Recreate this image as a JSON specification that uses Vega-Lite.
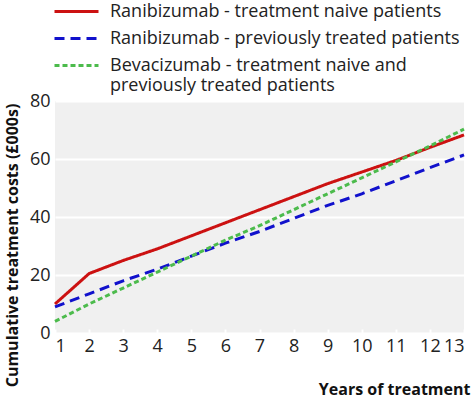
{
  "$schema": "https://vega.github.io/schema/vega-lite/v6.json",
  "autosize": "none",
  "width": 409,
  "height": 232,
  "padding": {"left": 55, "top": 101, "right": 10, "bottom": 66},
  "background": "white",
  "config": {
    "view": {"fill": "#f0f0f0", "stroke": null},
    "font": "Open Sans"
  },
  "data": {
    "values": [
      {"year": 1, "series": "Ranibizumab - treatment naive patients", "cost": 10},
      {"year": 2, "series": "Ranibizumab - treatment naive patients", "cost": 20.5},
      {"year": 3, "series": "Ranibizumab - treatment naive patients", "cost": 25},
      {"year": 4, "series": "Ranibizumab - treatment naive patients", "cost": 29},
      {"year": 5, "series": "Ranibizumab - treatment naive patients", "cost": 33.5},
      {"year": 6, "series": "Ranibizumab - treatment naive patients", "cost": 38},
      {"year": 7, "series": "Ranibizumab - treatment naive patients", "cost": 42.5},
      {"year": 8, "series": "Ranibizumab - treatment naive patients", "cost": 47},
      {"year": 9, "series": "Ranibizumab - treatment naive patients", "cost": 51.5},
      {"year": 10, "series": "Ranibizumab - treatment naive patients", "cost": 55.5},
      {"year": 11, "series": "Ranibizumab - treatment naive patients", "cost": 59.5},
      {"year": 12, "series": "Ranibizumab - treatment naive patients", "cost": 64},
      {"year": 13, "series": "Ranibizumab - treatment naive patients", "cost": 68.3},
      {"year": 1, "series": "Ranibizumab - previously treated patients", "cost": 9},
      {"year": 2, "series": "Ranibizumab - previously treated patients", "cost": 13.5},
      {"year": 3, "series": "Ranibizumab - previously treated patients", "cost": 18},
      {"year": 4, "series": "Ranibizumab - previously treated patients", "cost": 22},
      {"year": 5, "series": "Ranibizumab - previously treated patients", "cost": 26.5},
      {"year": 6, "series": "Ranibizumab - previously treated patients", "cost": 31},
      {"year": 7, "series": "Ranibizumab - previously treated patients", "cost": 35},
      {"year": 8, "series": "Ranibizumab - previously treated patients", "cost": 39.5},
      {"year": 9, "series": "Ranibizumab - previously treated patients", "cost": 44},
      {"year": 10, "series": "Ranibizumab - previously treated patients", "cost": 48},
      {"year": 11, "series": "Ranibizumab - previously treated patients", "cost": 52.5},
      {"year": 12, "series": "Ranibizumab - previously treated patients", "cost": 57},
      {"year": 13, "series": "Ranibizumab - previously treated patients", "cost": 61.4},
      {"year": 1, "series": "Bevacizumab - treatment naive and|previously treated patients", "cost": 4},
      {"year": 2, "series": "Bevacizumab - treatment naive and|previously treated patients", "cost": 10},
      {"year": 3, "series": "Bevacizumab - treatment naive and|previously treated patients", "cost": 15.5},
      {"year": 4, "series": "Bevacizumab - treatment naive and|previously treated patients", "cost": 21},
      {"year": 5, "series": "Bevacizumab - treatment naive and|previously treated patients", "cost": 26.5},
      {"year": 6, "series": "Bevacizumab - treatment naive and|previously treated patients", "cost": 32},
      {"year": 7, "series": "Bevacizumab - treatment naive and|previously treated patients", "cost": 37},
      {"year": 8, "series": "Bevacizumab - treatment naive and|previously treated patients", "cost": 42.5},
      {"year": 9, "series": "Bevacizumab - treatment naive and|previously treated patients", "cost": 48},
      {"year": 10, "series": "Bevacizumab - treatment naive and|previously treated patients", "cost": 53.5},
      {"year": 11, "series": "Bevacizumab - treatment naive and|previously treated patients", "cost": 59},
      {"year": 12, "series": "Bevacizumab - treatment naive and|previously treated patients", "cost": 64.5},
      {"year": 13, "series": "Bevacizumab - treatment naive and|previously treated patients", "cost": 70.3}
    ]
  },
  "mark": {"type": "line", "strokeWidth": 3, "clip": false},
  "encoding": {
    "x": {
      "field": "year", "type": "quantitative",
      "scale": {"domain": [1, 13], "nice": false, "zero": false},
      "axis": {
        "values": [1,2,3,4,5,6,7,8,9,10,11,12,13],
        "grid": false, "domain": false,
        "tickColor": "white", "tickSize": -4, "tickWidth": 2,
        "labelFontSize": 18, "labelColor": "#222", "labelPadding": 8,
        "title": "Years of treatment",
        "titleFontSize": 16, "titleFontWeight": "bold", "titleColor": "#111",
        "titleX": 415, "titleY": 56, "titleAlign": "right", "titleBaseline": "middle"
      }
    },
    "y": {
      "field": "cost", "type": "quantitative",
      "scale": {"domain": [0, 80], "nice": false},
      "axis": {
        "values": [0, 20, 40, 60, 80],
        "grid": true, "gridColor": "white", "gridWidth": 2,
        "domain": false, "ticks": false,
        "labelFontSize": 18, "labelColor": "#222", "labelPadding": 5,
        "title": "Cumulative treatment costs (£000s)",
        "titleFontSize": 16, "titleFontWeight": "bold", "titleColor": "#111",
        "titleX": -43, "titleY": 144, "titleAlign": "center", "titleBaseline": "middle", "titleAngle": 270
      }
    },
    "color": {
      "field": "series", "type": "nominal",
      "scale": {
        "domain": ["Ranibizumab - treatment naive patients", "Ranibizumab - previously treated patients", "Bevacizumab - treatment naive and|previously treated patients"],
        "range": ["#cc1111", "#1111cc", "#4cbb4c"]
      },
      "legend": {
        "title": null, "orient": "none", "legendX": 9, "legendY": -102,
        "symbolType": "M-2,0H2", "symbolSize": 484, "symbolStrokeWidth": 3,
        "symbolFillColor": "transparent",
        "labelFontSize": 18, "labelColor": "#222", "labelOffset": 21,
        "labelExpr": "split(datum.label, '|')", "labelLimit": 400,
        "rowPadding": 5
      }
    },
    "strokeDash": {
      "field": "series", "type": "nominal",
      "scale": {
        "domain": ["Ranibizumab - treatment naive patients", "Ranibizumab - previously treated patients", "Bevacizumab - treatment naive and|previously treated patients"],
        "range": [[1, 0], [10, 6], [5, 3]]
      },
      "legend": null
    }
  }
}
